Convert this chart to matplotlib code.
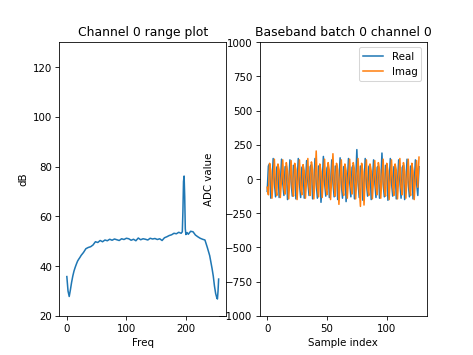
import numpy as np
import matplotlib
matplotlib.use('Agg')
from matplotlib import pyplot as plt

# range plot (dB vs range bin)
freq_bins = [0, 2, 4, 6, 8, 10, 12, 14, 16, 18, 20, 22, 24, 28, 32, 36, 40, 44, 48, 52,
             56, 60, 64, 68, 72, 76, 80, 84, 88, 92, 96, 100, 104, 108, 112, 116, 120,
             124, 128, 132, 136, 140, 144, 148, 152, 156, 160, 164, 168, 172, 176, 180,
             184, 188, 192, 194, 195, 196, 197, 198, 199, 200, 202, 204, 208, 212, 216,
             220, 224, 228, 232, 236, 240, 244, 246, 248, 250, 252, 253, 254, 255]
range_db = [35.8, 30.0, 27.8, 30.5, 33.5, 36.0, 38.0, 39.5, 40.8, 42.0, 42.8, 43.5, 44.3,
            45.5, 47.0, 47.5, 47.8, 48.5, 49.8, 49.5, 50.3, 49.8, 50.5, 50.2, 50.8, 50.4,
            50.9, 50.6, 50.3, 51.0, 50.7, 51.2, 51.0, 50.4, 50.8, 50.2, 51.3, 50.6, 51.0,
            50.8, 50.5, 51.2, 50.9, 51.1, 50.7, 51.0, 50.3, 51.4, 51.8, 52.3, 52.6, 53.2,
            53.0, 53.6, 53.2, 53.8, 62.0, 74.0, 76.2, 68.0, 55.0, 52.7, 53.5, 52.8, 54.0,
            53.8, 52.5, 51.8, 51.2, 50.8, 50.5, 47.5, 44.2, 39.0, 36.0, 32.0, 29.0, 27.2,
            26.8, 30.0, 34.8]

# baseband samples
bb_real = [-90, 95, 110, -140, -30, 150, -25,
           -130, 85, 100, -135, -35, 145, -30,
           -120, 90, 95, -150, -40, 140, -20,
           -125, 100, 80, -145, -25, 150, -35,
           -135, 85, 95, -140, -30, 135, -20,
           -120, 90, 105, -145, -40, 150, -30,
           -140, 95, 85, -170, -30, 165, -25,
           -125, 80, 100, -135, -35, 140, -25,
           -130, 95, 90, -150, -20, 155, -30,
           -140, 90, 95, -165, -35, 150, -20,
           -130, 85, 100, -145, -30, 215, -25,
           -135, 95, 90, -155, -40, 150, -30,
           -125, 90, 105, -150, -25, 140, -20,
           -135, 85, 95, -140, -35, 190, -30,
           -130, 100, 90, -155, -30, 150, -25,
           -125, 90, 95, -145, -35, 140, -20,
           -140, 85, 100, -150, -30, 145, -25,
           -130, 95, 90, -145, -35, 140, -30,
           -120, 90]
bb_imag = [-60, -115, 115, 60, -140, 5, 145,
           -55, -120, 110, 65, -135, 0, 140,
           -65, -110, 120, 55, -145, 10, 135,
           -60, -125, 115, 70, -150, 5, 140,
           -70, -115, 105, 60, -140, -5, 150,
           -55, -120, 125, 65, -145, 0, 205,
           -60, -130, 110, 55, -135, 10, 145,
           -65, -115, 120, 60, -150, 5, 185,
           -60, -125, 115, 65, -185, 0, 140,
           -70, -120, 110, 60, -140, 5, 145,
           -55, -110, 120, 70, -145, 0, 150,
           -60, -200, 115, 55, -190, 10, 140,
           -65, -120, 110, 60, -145, 5, 135,
           -60, -115, 120, 65, -140, 0, 145,
           -70, -125, 115, 60, -150, 5, 140,
           -55, -120, 110, 65, -145, 10, 150,
           -60, -115, 120, 55, -140, 0, 145,
           -65, -120, 115, 60, -150, 5, 135,
           -60, 160]

# default 6.4x4.8 figure, saved small
fig = plt.figure(figsize=(6.4, 4.8))

ax1 = fig.add_subplot(121)
ax1.plot(freq_bins, range_db)
ax1.set_ylim(20, 130)
ax1.set_title('Channel 0 range plot')
ax1.set_xlabel('Freq')
ax1.set_ylabel('dB')

ax2 = fig.add_subplot(122)
ax2.plot(bb_real, label='Real')
ax2.plot(bb_imag, label='Imag')
ax2.set_ylim(-1000, 1000)
ax2.set_title('Baseband batch 0 channel 0')
ax2.set_xlabel('Sample index')
ax2.set_ylabel('ADC value')
ax2.legend(loc='upper right')

fig.savefig('out.png', dpi=74.06)
